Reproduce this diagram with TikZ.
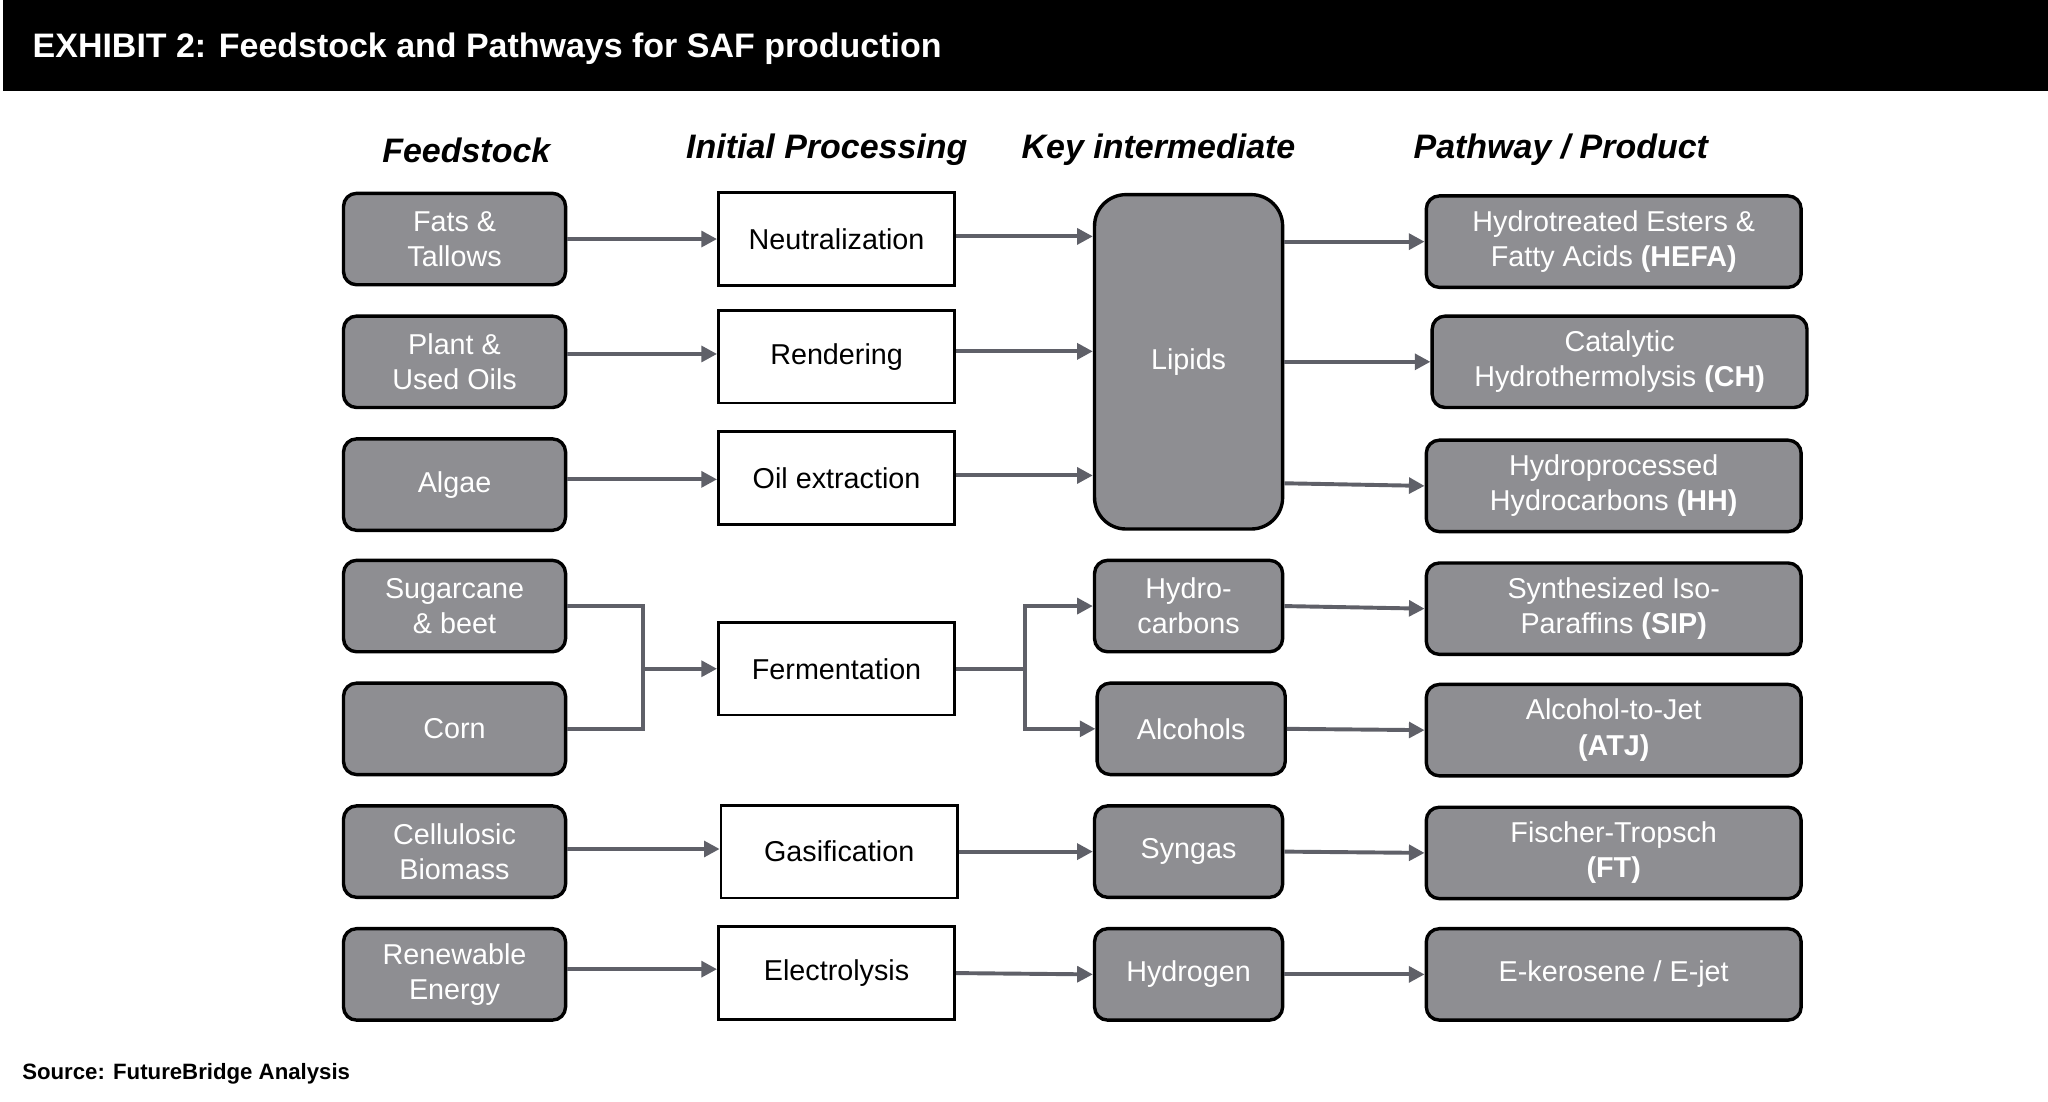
\documentclass[tikz,border=0pt]{standalone}
\usepackage{fontspec}
\setmainfont{Liberation Sans}
\usetikzlibrary{arrows.meta}
\definecolor{boxgray}{HTML}{8E8E92}
\definecolor{arrgray}{HTML}{5F6068}
\begin{document}
\begin{tikzpicture}[x=0.5pt,y=-0.5pt,
 gbox/.style={draw=black,line width=1.3pt,fill=boxgray,rounded corners=5pt,text=white,align=center,font=\fontsize{11}{13.5}\selectfont,inner sep=0pt},
 wbox/.style={draw=black,line width=1pt,fill=white,align=center,font=\fontsize{11}{13.5}\selectfont,inner sep=0pt,minimum width=90.5pt,minimum height=35.5pt},
 hdr/.style={font=\fontsize{13}{15}\selectfont\bfseries\itshape},
 arr/.style={draw=arrgray,line width=1.5pt,-{Triangle[length=6pt,width=6pt]}},
 ln/.style={draw=arrgray,line width=1.5pt}]
\useasboundingbox (0,0) rectangle (1568,843);
\fill[white] (0,0) rectangle (1568,843);
\fill[black] (2,0) rectangle (1568,70);
\node[anchor=west,text=white,font=\fontsize{13}{15}\selectfont\bfseries] (title) at (18,37) {EXHIBIT 2: Feedstock and Pathways for SAF production};
\node[hdr] (h1) at (357,115) {Feedstock};
\node[hdr] (h2) at (633,115) {Initial Processing};
\node[hdr] (h3) at (887,115) {Key intermediate};
\node[hdr] (h4) at (1195,115) {Pathway / Product};
% feedstock
\foreach \n/\y/\t in {f1/183/{Fats \&\\Tallows},f2/277/{Plant \&\\Used Oils},f3/371/{Algae},f4/464/{Sugarcane\\\& beet},f5/558/{Corn},f6/652/{Cellulosic\\Biomass},f7/746/{Renewable\\Energy}}
 \node[gbox,minimum width=85pt,minimum height=35pt] (\n) at (348,\y) {\t};
% processing
\node[wbox] (p1) at (640.5,183) {Neutralization};
\node[wbox] (p2) at (640.5,273) {Rendering};
\node[wbox] (p3) at (640.5,366) {Oil extraction};
\node[wbox] (p4) at (640.5,512) {Fermentation};
\node[wbox] (p5) at (642.5,652) {Gasification};
\node[wbox] (p6) at (640.5,745) {Electrolysis};
% intermediates
\node[gbox,minimum width=72pt,minimum height=128pt,rounded corners=12pt] (lip) at (910,277) {Lipids};
\node[gbox,minimum width=72pt,minimum height=35pt] (i1) at (910,464) {Hydro-\\carbons};
\node[gbox,minimum width=72pt,minimum height=35pt] (i2) at (912,558) {Alcohols};
\node[gbox,minimum width=72pt,minimum height=35pt] (i3) at (910,652) {Syngas};
\node[gbox,minimum width=72pt,minimum height=35pt] (i4) at (910,746) {Hydrogen};
% products
\foreach \n/\x/\y/\t in {r1/1235.5/185/{Hydrotreated Esters \&\\Fatty Acids \textbf{(HEFA)}},r2/1240/277/{Catalytic\\Hydrothermolysis \textbf{(CH)}},r3/1235.5/372/{Hydroprocessed\\Hydrocarbons \textbf{(HH)}},r4/1235.5/466/{Synthesized Iso-\\Paraffins \textbf{(SIP)}},r5/1235.5/559/{Alcohol-to-Jet\\\textbf{(ATJ)}},r6/1235.5/653/{Fischer-Tropsch\\\textbf{(FT)}},r7/1235.5/746/{E-kerosene / E-jet}}
 \node[gbox,minimum width=143.5pt,minimum height=35pt] (\n) at (\x,\y) {\t};
% arrows feedstock -> processing
\draw[arr] (f1.east) -- (p1.west);
\draw[arr] (f2.east |- 0,271) -- (p2.west |- 0,271);
\draw[arr] (f3.east |- 0,367) -- (p3.west |- 0,367);
\draw[arr] (f6.east |- 0,650) -- (p5.west |- 0,650);
\draw[arr] (f7.east |- 0,742) -- (p6.west |- 0,742);
\coordinate (m1) at (492,512);
\draw[ln] (f4.east) -| (m1);
\draw[ln] (f5.east) -| (m1);
\draw[arr] (m1) -- (p4.west);
% processing -> intermediates
\draw[arr] (p1.east |- 0,181) -- (lip.west |- 0,181);
\draw[arr] (p2.east |- 0,269) -- (lip.west |- 0,269);
\draw[arr] (p3.east |- 0,364) -- (lip.west |- 0,364);
\coordinate (m2) at (785,512);
\draw[ln] (p4.east) -- (m2);
\draw[arr] (m2) |- (i1.west);
\draw[arr] (m2) |- (i2.west);
\draw[arr] (p5.east) -- (i3.west);
\draw[arr] (p6.east) -- (i4.west);
% intermediates -> products
\draw[arr] (lip.east |- 0,185) -- (r1.west);
\draw[arr] (lip.east |- 0,277) -- (r2.west);
\draw[arr] (lip.east |- 0,370) -- (r3.west);
\draw[arr] (i1.east) -- (r4.west);
\draw[arr] (i2.east) -- (r5.west);
\draw[arr] (i3.east) -- (r6.west);
\draw[arr] (i4.east) -- (r7.west);
\node[anchor=west,font=\fontsize{8.5}{10}\selectfont\bfseries] (src) at (10,822) {Source: FutureBridge Analysis};
\end{tikzpicture}
\end{document}
